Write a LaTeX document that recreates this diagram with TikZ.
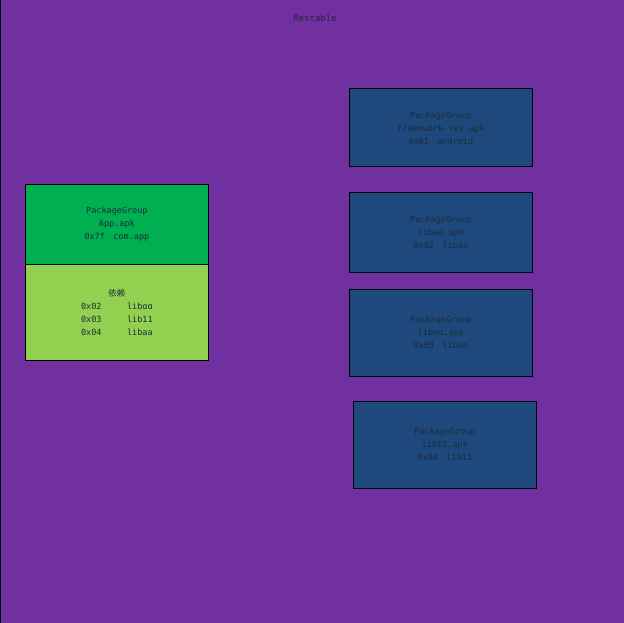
\documentclass[tikz,border=0pt]{standalone}
\usepackage{fontspec}
\setmonofont{DejaVu Sans Mono}
\newfontfamily\cjk{Noto Sans CJK SC}
\definecolor{bgp}{HTML}{7030A0}
\definecolor{gA}{HTML}{00B050}
\definecolor{gB}{HTML}{92D050}
\definecolor{bl}{HTML}{1F497D}
\definecolor{tx}{HTML}{1C2A3A}
\begin{document}
\begin{tikzpicture}[x=1pt,y=-1pt,
  box/.style={draw=black,line width=0.8pt,anchor=north west,inner sep=0pt,font=\ttfamily\fontsize{8.5}{13}\selectfont,text=tx,align=center},
  bluebox/.style={box,fill=bl,minimum width=183pt},
  ]
\fill[bgp] (0,0) rectangle (624,622);
\draw[black,line width=1pt] (0.5,0) -- (0.5,622);
\useasboundingbox (0,0) rectangle (624,622);
\node[font=\ttfamily\fontsize{9}{11}\selectfont,text=tx] (title) at (315,18) {Restable};
\node[box,fill=gA,minimum width=183pt,minimum height=79pt] (app) at (25,184) {PackageGroup\\App.apk\\0x7f\quad com.app};
\node[box,fill=gB,minimum width=183pt,minimum height=96pt,anchor=north] (dep) at (app.south) {{\cjk 依赖}\\0x02\qquad\quad libɑɑ\\0x03\qquad\quad lib11\\0x04\qquad\quad libaa};
\node[bluebox,minimum height=78pt] (fw) at (349,88) {PackageGroup\\framework-res.apk\\0x01\quad android};
\node[bluebox,minimum height=79pt] (aa) at (349,192) {PackageGroup\\libaa.apk\\0x02\quad libaa};
\node[bluebox,minimum height=87pt] (alpha) at (349,288) {PackageGroup\\libɑɑ.apk\\0x03\quad libɑɑ};
\node[bluebox,minimum height=87pt] (l11) at (353,400) {PackageGroup\\lib11.apk\\0x04\quad lib11};
\end{tikzpicture}
\end{document}
